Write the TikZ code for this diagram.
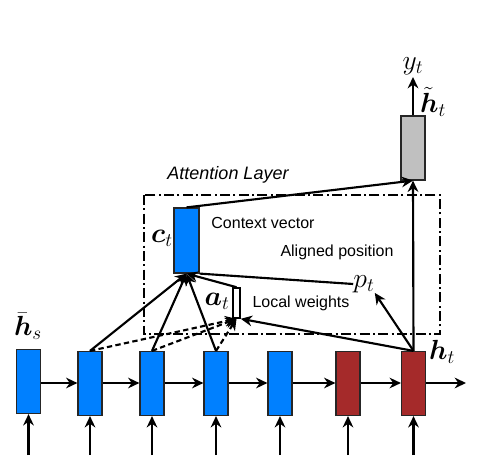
\documentclass[tikz,border=0pt]{standalone}
\usepackage{amsmath,bm}
\usepackage{fontspec}
\newfontfamily\arialf{Liberation Sans}
\usetikzlibrary{arrows.meta}
\definecolor{cblue}{RGB}{0,128,255}
\definecolor{cred}{RGB}{165,42,42}
\definecolor{cgray}{RGB}{192,192,192}
\begin{document}
\begin{tikzpicture}[x=0.75pt,y=-0.75pt,
  cell/.style={draw=black!85,line width=0.9pt,minimum width=18pt,minimum height=48pt,inner sep=0pt},
  bluecell/.style={cell,fill=cblue},
  redcell/.style={cell,fill=cred},
  arr/.style={line width=1.6pt,-{Stealth[length=8.5pt,width=8pt]}},
  lbl/.style={font=\arialf\fontsize{12pt}{14pt}\selectfont,inner sep=0pt},
  mlbl/.style={font=\fontsize{20.5pt}{24pt}\selectfont,inner sep=0pt}]
\useasboundingbox (0,0) rectangle (482,467);
% attention layer frame
\draw[line width=1.5pt,dash pattern=on 7.5pt off 2.5pt on 1.5pt off 2.5pt] (144,195) rectangle (440,334);
\node[font=\arialf\itshape\fontsize{13.5pt}{16pt}\selectfont,inner sep=0pt] (attn) at (228,175) {Attention Layer};
% bottom row
\node[bluecell] (b1) at (28.5,381.5) {};
\node[bluecell] (b2) at (90,383.5) {};
\node[bluecell] (b3) at (152,383.5) {};
\node[bluecell] (b4) at (216,383.5) {};
\node[bluecell] (b5) at (280,383.5) {};
\node[redcell] (b6) at (348,383.5) {};
\node[redcell] (b7) at (413.5,383.5) {};
\coordinate (bend) at (466,383);
\foreach \a/\b in {b1/b2,b2/b3,b3/b4,b4/b5,b5/b6,b6/b7}
  \draw[arr] (\a.east |- 0,383) -- (\b.west |- 0,383);
\draw[arr] (b7.east |- 0,383) -- (bend);
\foreach \b/\x in {b1/28.5,b2/90,b3/152,b4/216,b5/280,b6/348,b7/413.5}{
  \coordinate (in\b) at (\x,455);
  \draw[arr] (in\b) -- (\b.south);
}
% top cell
\node[cell,fill=cgray] (gray) at (413,148) {};
\coordinate (ytop) at (413,77);
\draw[arr] (gray.north) -- (ytop);
\node[mlbl] (yt) at (413,66) {$y_t$};
\node[mlbl] (htil) at (433,102) {$\tilde{\bm h}_t$};
% context vector
\node[bluecell,minimum width=18.75pt,minimum height=48.75pt] (ct) at (186.5,240.5) {};
\node[mlbl] (ctl) at (162,238) {$\bm c_t$};
\node[lbl] (cv) at (263,223) {Context vector};
\node[lbl] (ap) at (337,252) {Aligned position};
\node[mlbl] (pt) at (364,284) {$p_t$};
% local weights
\node[draw,line width=1.2pt,fill=white,minimum width=5.25pt,minimum height=22.5pt,inner sep=0pt] (at) at (236.5,303) {};
\node[mlbl] (atl) at (217,301) {$\bm a_t$};
\node[lbl] (lw) at (301,303) {Local weights};
\node[mlbl] (hs) at (28,326) {$\bar{\bm h}_s$};
\node[mlbl] (ht) at (442,352) {$\bm h_t$};
% connectors
\draw[arr] (ct.north) -- (gray.south);
\draw[arr] (b7.north) -- (gray.south);
\foreach \b in {b2,b3,b4}
  \draw[arr] (\b.north) -- (ct.south);
\foreach \b in {b2,b3,b4}
  \draw[arr,dash pattern=on 4pt off 2.5pt] (\b.north) -- (at.south);
\draw[arr] (b7.north) -- (at.south east);
\draw[arr] (b7.north) -- (pt.south east);
\draw[arr] (at.north) -- (ct.south);
\draw[line width=1.6pt] (pt.west) -- (ct.south east);
\end{tikzpicture}
\end{document}
